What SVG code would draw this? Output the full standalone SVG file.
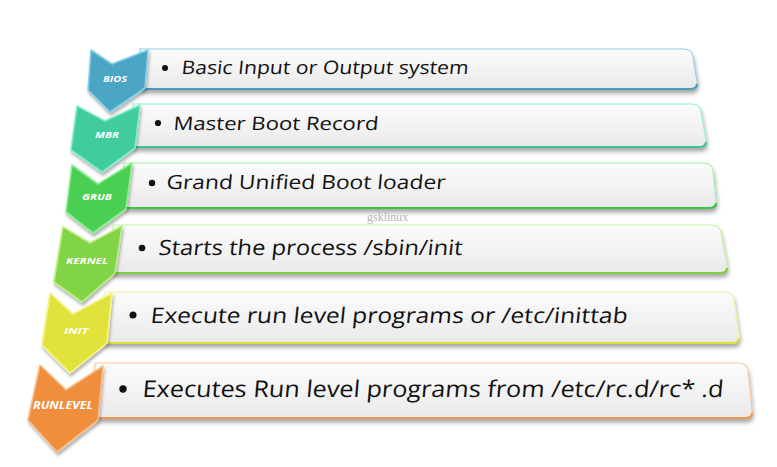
<svg xmlns="http://www.w3.org/2000/svg" width="777" height="467" viewBox="0 0 777 467">
<defs>
<linearGradient id="boxfill" x1="0" y1="0" x2="0" y2="1">
<stop offset="0" stop-color="#fbfbfb"/>
<stop offset="0.5" stop-color="#f3f3f3"/>
<stop offset="1" stop-color="#e9e9e9"/>
</linearGradient>
<filter id="shadow" x="-5%" y="-20%" width="110%" height="160%">
<feDropShadow dx="1" dy="4" stdDeviation="2" flood-color="#000" flood-opacity="0.35"/>
</filter>
<filter id="cshadow" x="-20%" y="-20%" width="140%" height="140%">
<feDropShadow dx="1" dy="3" stdDeviation="1.5" flood-color="#000" flood-opacity="0.3"/>
</filter>
</defs>
<style>
.box{fill:url(#boxfill);stroke-width:1.2;filter:url(#shadow)}
.chev{stroke-width:1.6;stroke-linejoin:round;filter:url(#cshadow)}
.lbl{font-family:"Open Sans","DejaVu Sans",sans-serif;font-weight:bold;font-style:italic;fill:#ffffff;text-anchor:middle}
.txt{font-family:"Open Sans","Lato",sans-serif;fill:#111111}
.bul{fill:#111111}
.wm{font-family:"Liberation Serif",serif;font-size:12px;fill:#b4b4b4}
</style>
<rect width="777" height="467" fill="#ffffff"/>

<g id="bios">
<path class="box" stroke="#8fd0e6" d="M140,49 H684 Q692,49 693,57 L697,81 Q698,89 690,89 H140 Z"/>
<path d="M140,89 H690 Q697,89 697,84" fill="none" stroke="#4a9cbc" stroke-width="2.2"/>
<polygon class="chev" fill="#4ba5c4" stroke="#86d0e8" points="91,50 112,64 148,50 145,88 110,112 88,90"/>
<text class="lbl" x="115" y="82" font-size="8" textLength="24" lengthAdjust="spacingAndGlyphs">BIOS</text>
<circle class="bul" cx="165" cy="68" r="3"/>
<text class="txt" transform="translate(181,74) skewX(-6)" font-size="18.5" textLength="287" lengthAdjust="spacingAndGlyphs">Basic Input or Output system</text>
</g>

<g id="mbr">
<path class="box" stroke="#8ff0d0" d="M133,104 H692 Q700,104 701,112 L706,139 Q707,147 699,147 H133 Z"/>
<path d="M133,147 H699 Q706,147 706,142" fill="none" stroke="#3cc39a" stroke-width="2.2"/>
<polygon class="chev" fill="#3fcc9f" stroke="#80ecca" points="77,106 105,121 140,105 135,148 102,172 71,150"/>
<text class="lbl" x="107" y="138" font-size="8" textLength="24" lengthAdjust="spacingAndGlyphs">MBR</text>
<circle class="bul" cx="158" cy="123" r="3.1"/>
<text class="txt" transform="translate(173,130) skewX(-5)" font-size="18.5" textLength="205" lengthAdjust="spacingAndGlyphs">Master Boot Record</text>
</g>

<g id="grub">
<path class="box" stroke="#a0f0a8" d="M124,163 H704 Q712,163 713,171 L716,200 Q717,208 709,208 H124 Z"/>
<path d="M124,208 H709 Q716,208 716,203" fill="none" stroke="#3cc44a" stroke-width="2.2"/>
<polygon class="chev" fill="#4ccf52" stroke="#8cee90" points="72,165 98,184 132,163 126,209 93,233 66,212"/>
<text class="lbl" x="97" y="200" font-size="9" textLength="30" lengthAdjust="spacingAndGlyphs">GRUB</text>
<circle class="bul" cx="152" cy="183" r="3.2"/>
<text class="txt" transform="translate(166,189) skewX(-5)" font-size="19.5" textLength="279" lengthAdjust="spacingAndGlyphs">Grand Unified Boot loader</text>
</g>

<g id="kernel">
<path class="box" stroke="#c4f29a" d="M113,225 H712 Q720,225 721,233 L727,265 Q728,273 720,273 H113 Z"/>
<path d="M113,273 H720 Q727,273 727,268" fill="none" stroke="#7fcf3e" stroke-width="2.2"/>
<polygon class="chev" fill="#80d445" stroke="#b6f07e" points="63,227 90,243 122,226 115,273 82,302 54,282"/>
<text class="lbl" x="87" y="264" font-size="9" textLength="42" lengthAdjust="spacingAndGlyphs">KERNEL</text>
<circle class="bul" cx="142" cy="248" r="3.3"/>
<text class="txt" transform="translate(158,255) skewX(-6)" font-size="21" textLength="304" lengthAdjust="spacingAndGlyphs">Starts the process /sbin/init</text>
</g>

<g id="init">
<path class="box" stroke="#f2f29a" d="M105,292 H725 Q733,292 734,300 L739,335 Q740,343 732,343 H105 Z"/>
<path d="M105,343 H732 Q739,343 739,338" fill="none" stroke="#dede3a" stroke-width="2.2"/>
<polygon class="chev" fill="#e2e23e" stroke="#f6f68c" points="50,293 73,314 112,293 107,343 70,373 42,345"/>
<text class="lbl" x="76" y="334" font-size="9" textLength="24" lengthAdjust="spacingAndGlyphs">INIT</text>
<circle class="bul" cx="133" cy="315" r="3.5"/>
<text class="txt" transform="translate(150,323) skewX(-6)" font-size="21.5" textLength="477" lengthAdjust="spacingAndGlyphs">Execute run level programs or /etc/inittab</text>
</g>

<g id="runlevel">
<path class="box" stroke="#f6c8a0" d="M95,363 H739 Q747,363 748,371 L752,410 Q753,418 745,418 H95 Z"/>
<path d="M95,418 H745 Q752,418 752,413" fill="none" stroke="#ec9a50" stroke-width="2.2"/>
<polygon class="chev" fill="#ef8e3e" stroke="#f8bc84" points="40,365 66,390 103,366 98,420 57,452 28,420"/>
<text class="lbl" x="63" y="409" font-size="10" textLength="60" lengthAdjust="spacingAndGlyphs">RUNLEVEL</text>
<circle class="bul" cx="123" cy="389" r="3.7"/>
<text class="txt" transform="translate(142,397) skewX(-5)" font-size="23" textLength="581" lengthAdjust="spacingAndGlyphs">Executes Run level programs from /etc/rc.d/rc* .d</text>
</g>

<text class="wm" x="367" y="221">gsklinux</text>
</svg>
